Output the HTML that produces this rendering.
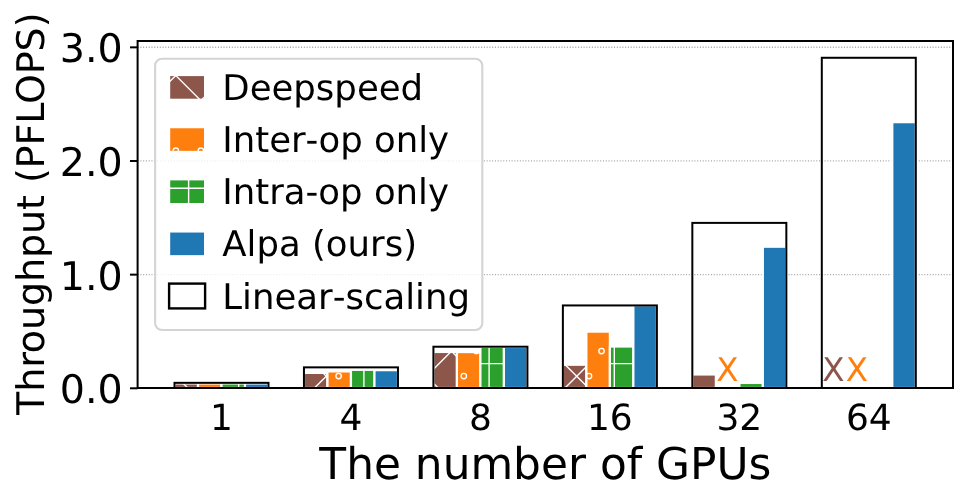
<!DOCTYPE html>
<html lang="en"><head><meta charset="utf-8"><title>Throughput vs number of GPUs</title>
<style>html,body{margin:0;padding:0;background:#fff}body{width:968px;height:503px;overflow:hidden}svg{display:block}text{font-family:'DejaVu Sans','Liberation Sans',sans-serif;fill:#000;font-kerning:none;text-rendering:geometricPrecision}</style>
</head><body>
<svg width="968" height="503" viewBox="0 0 968 503">
<rect x="0" y="0" width="968" height="503" fill="#fff"/>
<defs><clipPath id="c1"><rect x="174.50" y="383.45" width="23.50" height="4.55"/></clipPath><clipPath id="c2"><rect x="221.50" y="383.45" width="23.50" height="4.55"/></clipPath><clipPath id="c3"><rect x="303.96" y="372.88" width="23.50" height="15.12"/></clipPath><clipPath id="c4"><rect x="327.46" y="371.41" width="23.50" height="16.59"/></clipPath><clipPath id="c5"><rect x="350.96" y="369.82" width="23.50" height="18.18"/></clipPath><clipPath id="c6"><rect x="433.42" y="351.97" width="23.50" height="36.03"/></clipPath><clipPath id="c7"><rect x="456.92" y="352.05" width="23.50" height="35.95"/></clipPath><clipPath id="c8"><rect x="480.42" y="346.97" width="23.50" height="41.03"/></clipPath><clipPath id="c9"><rect x="562.88" y="364.75" width="23.50" height="23.25"/></clipPath><clipPath id="c10"><rect x="586.38" y="331.63" width="23.50" height="56.37"/></clipPath><clipPath id="c11"><rect x="609.88" y="346.52" width="23.50" height="41.48"/></clipPath><clipPath id="c12"><rect x="692.34" y="374.48" width="23.50" height="13.52"/></clipPath><clipPath id="c13"><rect x="739.34" y="382.95" width="23.50" height="5.05"/></clipPath><clipPath id="c14"><rect x="169.10" y="75.00" width="36.00" height="24.80"/></clipPath><clipPath id="c15"><rect x="169.10" y="127.15" width="36.00" height="24.80"/></clipPath><clipPath id="c16"><rect x="169.10" y="179.30" width="36.00" height="24.80"/></clipPath></defs>
<g stroke="#a8a8a8" stroke-width="1.3" stroke-dasharray="1.05 1.72" fill="none"><line x1="137.60" y1="274.55" x2="953.00" y2="274.55"/><line x1="137.60" y1="160.90" x2="953.00" y2="160.90"/><line x1="137.60" y1="47.25" x2="953.00" y2="47.25"/></g>
<rect x="174.50" y="383.45" width="23.50" height="4.55" fill="#8c564b"/>
<g clip-path="url(#c1)" stroke="#fff" stroke-width="1.40" fill="none"><line x1="169.50" y1="332.42" x2="203.00" y2="298.92"/><line x1="169.50" y1="382.54" x2="203.00" y2="349.04"/><line x1="169.50" y1="432.66" x2="203.00" y2="399.16"/><line x1="169.50" y1="469.85" x2="203.00" y2="503.35"/><line x1="169.50" y1="419.77" x2="203.00" y2="453.27"/><line x1="169.50" y1="369.69" x2="203.00" y2="403.19"/><line x1="169.50" y1="319.61" x2="203.00" y2="353.11"/></g>
<rect x="174.50" y="383.45" width="23.50" height="4.55" fill="none" stroke="#fff" stroke-width="2.20"/>
<rect x="198.00" y="383.45" width="23.50" height="4.55" fill="#ff7f0e"/>
<rect x="198.00" y="383.45" width="23.50" height="4.55" fill="none" stroke="#fff" stroke-width="2.20"/>
<rect x="221.50" y="383.45" width="23.50" height="4.55" fill="#2ca02c"/>
<g clip-path="url(#c2)" stroke="#fff" stroke-width="1.40" fill="none"><line x1="238.70" y1="381.45" x2="238.70" y2="390.00"/><line x1="219.50" y1="388.64" x2="247.00" y2="388.64"/></g>
<rect x="221.50" y="383.45" width="23.50" height="4.55" fill="none" stroke="#fff" stroke-width="2.20"/>
<rect x="245.00" y="383.45" width="23.50" height="4.55" fill="#1f77b4"/>
<rect x="245.00" y="383.45" width="23.50" height="4.55" fill="none" stroke="#fff" stroke-width="2.20"/>
<rect x="303.96" y="372.88" width="23.50" height="15.12" fill="#8c564b"/>
<g clip-path="url(#c3)" stroke="#fff" stroke-width="1.40" fill="none"><line x1="298.96" y1="303.20" x2="332.46" y2="269.70"/><line x1="298.96" y1="353.32" x2="332.46" y2="319.82"/><line x1="298.96" y1="403.44" x2="332.46" y2="369.94"/><line x1="298.96" y1="453.56" x2="332.46" y2="420.06"/><line x1="298.96" y1="449.07" x2="332.46" y2="482.57"/><line x1="298.96" y1="398.99" x2="332.46" y2="432.49"/><line x1="298.96" y1="348.91" x2="332.46" y2="382.41"/><line x1="298.96" y1="298.83" x2="332.46" y2="332.33"/></g>
<rect x="303.96" y="372.88" width="23.50" height="15.12" fill="none" stroke="#fff" stroke-width="2.20"/>
<rect x="327.46" y="371.41" width="23.50" height="16.59" fill="#ff7f0e"/>
<g clip-path="url(#c4)" stroke="#fff" stroke-width="1.40" fill="none"><circle cx="338.60" cy="376.10" r="2.7"/></g>
<rect x="327.46" y="371.41" width="23.50" height="16.59" fill="none" stroke="#fff" stroke-width="2.20"/>
<rect x="350.96" y="369.82" width="23.50" height="18.18" fill="#2ca02c"/>
<g clip-path="url(#c5)" stroke="#fff" stroke-width="1.40" fill="none"><line x1="363.90" y1="367.82" x2="363.90" y2="390.00"/><line x1="348.96" y1="388.64" x2="376.46" y2="388.64"/></g>
<rect x="350.96" y="369.82" width="23.50" height="18.18" fill="none" stroke="#fff" stroke-width="2.20"/>
<rect x="374.46" y="370.16" width="23.50" height="17.84" fill="#1f77b4"/>
<rect x="374.46" y="370.16" width="23.50" height="17.84" fill="none" stroke="#fff" stroke-width="2.20"/>
<rect x="433.42" y="351.97" width="23.50" height="36.03" fill="#8c564b"/>
<g clip-path="url(#c6)" stroke="#fff" stroke-width="1.40" fill="none"><line x1="428.42" y1="273.98" x2="461.92" y2="240.48"/><line x1="428.42" y1="324.10" x2="461.92" y2="290.60"/><line x1="428.42" y1="374.22" x2="461.92" y2="340.72"/><line x1="428.42" y1="424.34" x2="461.92" y2="390.84"/><line x1="428.42" y1="478.37" x2="461.92" y2="511.87"/><line x1="428.42" y1="428.29" x2="461.92" y2="461.79"/><line x1="428.42" y1="378.21" x2="461.92" y2="411.71"/><line x1="428.42" y1="328.13" x2="461.92" y2="361.63"/><line x1="428.42" y1="278.05" x2="461.92" y2="311.55"/></g>
<rect x="433.42" y="351.97" width="23.50" height="36.03" fill="none" stroke="#fff" stroke-width="2.20"/>
<rect x="456.92" y="352.05" width="23.50" height="35.95" fill="#ff7f0e"/>
<g clip-path="url(#c7)" stroke="#fff" stroke-width="1.40" fill="none"><circle cx="476.32" cy="351.06" r="2.7"/><circle cx="463.80" cy="376.10" r="2.7"/></g>
<rect x="456.92" y="352.05" width="23.50" height="35.95" fill="none" stroke="#fff" stroke-width="2.20"/>
<rect x="480.42" y="346.97" width="23.50" height="41.03" fill="#2ca02c"/>
<g clip-path="url(#c8)" stroke="#fff" stroke-width="1.40" fill="none"><line x1="489.10" y1="344.97" x2="489.10" y2="390.00"/><line x1="478.42" y1="363.60" x2="505.92" y2="363.60"/><line x1="478.42" y1="388.64" x2="505.92" y2="388.64"/></g>
<rect x="480.42" y="346.97" width="23.50" height="41.03" fill="none" stroke="#fff" stroke-width="2.20"/>
<rect x="503.92" y="346.97" width="23.50" height="41.03" fill="#1f77b4"/>
<rect x="503.92" y="346.97" width="23.50" height="41.03" fill="none" stroke="#fff" stroke-width="2.20"/>
<rect x="562.88" y="364.75" width="23.50" height="23.25" fill="#8c564b"/>
<g clip-path="url(#c9)" stroke="#fff" stroke-width="1.40" fill="none"><line x1="557.88" y1="294.88" x2="591.38" y2="261.38"/><line x1="557.88" y1="345.00" x2="591.38" y2="311.50"/><line x1="557.88" y1="395.12" x2="591.38" y2="361.62"/><line x1="557.88" y1="445.24" x2="591.38" y2="411.74"/><line x1="557.88" y1="457.59" x2="591.38" y2="491.09"/><line x1="557.88" y1="407.51" x2="591.38" y2="441.01"/><line x1="557.88" y1="357.43" x2="591.38" y2="390.93"/><line x1="557.88" y1="307.35" x2="591.38" y2="340.85"/></g>
<rect x="562.88" y="364.75" width="23.50" height="23.25" fill="none" stroke="#fff" stroke-width="2.20"/>
<rect x="586.38" y="331.63" width="23.50" height="56.37" fill="#ff7f0e"/>
<g clip-path="url(#c10)" stroke="#fff" stroke-width="1.40" fill="none"><circle cx="601.52" cy="351.06" r="2.7"/><circle cx="589.00" cy="376.10" r="2.7"/></g>
<rect x="586.38" y="331.63" width="23.50" height="56.37" fill="none" stroke="#fff" stroke-width="2.20"/>
<rect x="609.88" y="346.52" width="23.50" height="41.48" fill="#2ca02c"/>
<g clip-path="url(#c11)" stroke="#fff" stroke-width="1.40" fill="none"><line x1="614.30" y1="344.52" x2="614.30" y2="390.00"/><line x1="607.88" y1="363.60" x2="635.38" y2="363.60"/><line x1="607.88" y1="388.64" x2="635.38" y2="388.64"/></g>
<rect x="609.88" y="346.52" width="23.50" height="41.48" fill="none" stroke="#fff" stroke-width="2.20"/>
<rect x="633.38" y="305.26" width="23.50" height="82.74" fill="#1f77b4"/>
<rect x="633.38" y="305.26" width="23.50" height="82.74" fill="none" stroke="#fff" stroke-width="2.20"/>
<rect x="692.34" y="374.48" width="23.50" height="13.52" fill="#8c564b"/>
<g clip-path="url(#c12)" stroke="#fff" stroke-width="1.40" fill="none"><line x1="687.34" y1="315.78" x2="720.84" y2="282.28"/><line x1="687.34" y1="365.90" x2="720.84" y2="332.40"/><line x1="687.34" y1="416.02" x2="720.84" y2="382.52"/><line x1="687.34" y1="466.14" x2="720.84" y2="432.64"/><line x1="687.34" y1="436.81" x2="720.84" y2="470.31"/><line x1="687.34" y1="386.73" x2="720.84" y2="420.23"/><line x1="687.34" y1="336.65" x2="720.84" y2="370.15"/></g>
<rect x="692.34" y="374.48" width="23.50" height="13.52" fill="none" stroke="#fff" stroke-width="2.20"/>
<rect x="739.34" y="382.95" width="23.50" height="5.05" fill="#2ca02c"/>
<g clip-path="url(#c13)" stroke="#fff" stroke-width="1.40" fill="none"><line x1="739.50" y1="380.95" x2="739.50" y2="390.00"/><line x1="764.54" y1="380.95" x2="764.54" y2="390.00"/><line x1="737.34" y1="388.64" x2="764.84" y2="388.64"/></g>
<rect x="739.34" y="382.95" width="23.50" height="5.05" fill="none" stroke="#fff" stroke-width="2.20"/>
<rect x="762.84" y="246.73" width="23.50" height="141.27" fill="#1f77b4"/>
<rect x="762.84" y="246.73" width="23.50" height="141.27" fill="none" stroke="#fff" stroke-width="2.20"/>
<rect x="892.30" y="122.17" width="23.50" height="265.83" fill="#1f77b4"/>
<rect x="892.30" y="122.17" width="23.50" height="265.83" fill="none" stroke="#fff" stroke-width="2.20"/>
<text x="727.39" y="381.4" font-size="32.5" text-anchor="middle" style="fill:#ff7f0e">X</text>
<text x="833.35" y="381.4" font-size="32.5" text-anchor="middle" style="fill:#8c564b">X</text>
<text x="856.85" y="381.4" font-size="32.5" text-anchor="middle" style="fill:#ff7f0e">X</text>
<rect x="174.50" y="382.84" width="94.00" height="5.16" fill="none" stroke="#000" stroke-width="2.0"/>
<rect x="303.96" y="367.36" width="94.00" height="20.64" fill="none" stroke="#000" stroke-width="2.0"/>
<rect x="433.42" y="346.72" width="94.00" height="41.28" fill="none" stroke="#000" stroke-width="2.0"/>
<rect x="562.88" y="305.44" width="94.00" height="82.56" fill="none" stroke="#000" stroke-width="2.0"/>
<rect x="692.34" y="222.89" width="94.00" height="165.11" fill="none" stroke="#000" stroke-width="2.0"/>
<rect x="821.80" y="57.78" width="94.00" height="330.22" fill="none" stroke="#000" stroke-width="2.0"/>
<rect x="137.60" y="41.00" width="815.40" height="347.00" fill="none" stroke="#000" stroke-width="2.00"/>
<line x1="130.00" y1="388.30" x2="137.60" y2="388.30" stroke="#000" stroke-width="2"/>
<text x="122.7" y="403.30" font-size="39.6" text-anchor="end">0.0</text>
<line x1="130.00" y1="274.65" x2="137.60" y2="274.65" stroke="#000" stroke-width="2"/>
<text x="122.7" y="289.65" font-size="39.6" text-anchor="end">1.0</text>
<line x1="130.00" y1="161.00" x2="137.60" y2="161.00" stroke="#000" stroke-width="2"/>
<text x="122.7" y="176.00" font-size="39.6" text-anchor="end">2.0</text>
<line x1="130.00" y1="47.35" x2="137.60" y2="47.35" stroke="#000" stroke-width="2"/>
<text x="122.7" y="62.35" font-size="39.6" text-anchor="end">3.0</text>
<text x="221.50" y="430.4" font-size="36" text-anchor="middle">1</text>
<text x="350.96" y="430.4" font-size="36" text-anchor="middle">4</text>
<text x="480.42" y="430.4" font-size="36" text-anchor="middle">8</text>
<text x="609.88" y="430.4" font-size="36" text-anchor="middle">16</text>
<text x="739.34" y="430.4" font-size="36" text-anchor="middle">32</text>
<text x="868.80" y="430.4" font-size="36" text-anchor="middle">64</text>
<text x="545.4" y="479.3" font-size="43.85" text-anchor="middle">The number of GPUs</text>
<text transform="translate(43.5 213.8) rotate(-90)" font-size="38.1" text-anchor="middle" style="font-kerning:normal;letter-spacing:-0.13px">Throughput (PFLOPS)</text>
<rect x="155.1" y="58.7" width="327.2" height="271.3" rx="7" ry="7" fill="#fff" fill-opacity="0.8" stroke="#ccc" stroke-opacity="0.85" stroke-width="2.1"/>
<rect x="169.10" y="75.00" width="36.00" height="24.80" fill="#8c564b"/>
<g clip-path="url(#c14)" stroke="#fff" stroke-width="1.40" fill="none"><line x1="164.10" y1="-13.02" x2="210.10" y2="-59.02"/><line x1="164.10" y1="37.10" x2="210.10" y2="-8.90"/><line x1="164.10" y1="87.22" x2="210.10" y2="41.22"/><line x1="164.10" y1="137.34" x2="210.10" y2="91.34"/><line x1="164.10" y1="187.46" x2="210.10" y2="141.46"/><line x1="164.10" y1="163.97" x2="210.10" y2="209.97"/><line x1="164.10" y1="113.89" x2="210.10" y2="159.89"/><line x1="164.10" y1="63.81" x2="210.10" y2="109.81"/><line x1="164.10" y1="13.73" x2="210.10" y2="59.73"/></g>
<rect x="169.10" y="75.00" width="36.00" height="24.80" fill="none" stroke="#fff" stroke-width="2.20"/>
<text x="222.3" y="99.90" font-size="35.5">Deepspeed</text>
<rect x="169.10" y="127.15" width="36.00" height="24.80" fill="#ff7f0e"/>
<g clip-path="url(#c15)" stroke="#fff" stroke-width="1.40" fill="none"><circle cx="175.84" cy="150.74" r="2.7"/><circle cx="200.88" cy="150.74" r="2.7"/></g>
<rect x="169.10" y="127.15" width="36.00" height="24.80" fill="none" stroke="#fff" stroke-width="2.20"/>
<text x="222.3" y="152.05" font-size="35.5">Inter-op only</text>
<rect x="169.10" y="179.30" width="36.00" height="24.80" fill="#2ca02c"/>
<g clip-path="url(#c16)" stroke="#fff" stroke-width="1.40" fill="none"><line x1="188.62" y1="177.30" x2="188.62" y2="206.10"/><line x1="167.10" y1="188.32" x2="207.10" y2="188.32"/></g>
<rect x="169.10" y="179.30" width="36.00" height="24.80" fill="none" stroke="#fff" stroke-width="2.20"/>
<text x="222.3" y="204.20" font-size="35.5">Intra-op only</text>
<rect x="169.10" y="231.45" width="36.00" height="24.80" fill="#1f77b4"/>
<rect x="169.10" y="231.45" width="36.00" height="24.80" fill="none" stroke="#fff" stroke-width="2.20"/>
<text x="222.3" y="256.35" font-size="35.5">Alpa (ours)</text>
<rect x="169.10" y="283.60" width="36.00" height="24.80" fill="#fff" stroke="#000" stroke-width="2.4"/>
<text x="222.3" y="308.50" font-size="35.5">Linear-scaling</text>
</svg>
</body></html>
